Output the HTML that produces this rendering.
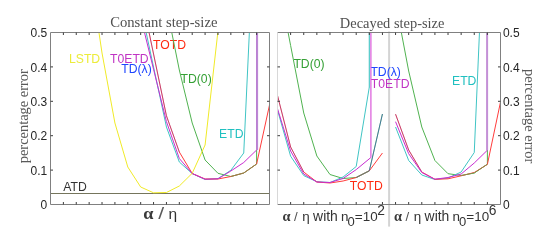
<!DOCTYPE html>
<html><head><meta charset="utf-8"><style>
html,body{margin:0;padding:0;background:#fff;}
svg{display:block;will-change:transform;}
svg{font-family:"Liberation Sans",sans-serif;}
</style></head><body>
<svg width="552" height="241" viewBox="0 0 552 241">
<defs>
<clipPath id="cl"><rect x="50.5" y="32.5" width="219.0" height="172.0"/></clipPath>
<clipPath id="cr1"><rect x="277.5" y="32.5" width="111.5" height="172.0"/></clipPath>
<clipPath id="cr2"><rect x="389" y="32.5" width="111.5" height="172.0"/></clipPath>
</defs>
<rect width="552" height="241" fill="#fff"/>
<text x="110.15" y="27.4" font-family="Liberation Serif" font-size="14.7" fill="#505050">Constant step-size</text>
<text x="339.8" y="28" font-family="Liberation Serif" font-size="14.45" fill="#505050">Decayed step-size</text>
<text font-family="Liberation Serif" font-size="14.45" fill="#5a5a5a" text-anchor="middle" transform="translate(27.6,116.2) rotate(-90)">percentage error</text>
<text font-family="Liberation Serif" font-size="14.45" fill="#5a5a5a" text-anchor="middle" transform="translate(524.6,116.2) rotate(90)">percentage error</text>
<line x1="389.1" y1="31.5" x2="389.1" y2="226.6" stroke="#d4d4d4" stroke-width="2"/>
<text x="69.0" y="62.9" font-family="Liberation Sans" font-size="12.2" fill="#ecec3a">LSTD</text>
<text x="110.05" y="62.9" font-family="Liberation Sans" font-size="12.2" fill="#c034c4">T0ETD</text>
<text x="121.25" y="73.2" font-family="Liberation Sans" font-size="12.2" fill="#1e46ff">TD(λ)</text>
<text x="153.12" y="48.75" font-family="Liberation Sans" font-size="12.2" fill="#ff2a10">TOTD</text>
<text x="180.55" y="82.8" font-family="Liberation Sans" font-size="12.2" fill="#35a035">TD(0)</text>
<text x="219.1" y="137.95" font-family="Liberation Sans" font-size="12.2" fill="#20c0c0">ETD</text>
<text x="63.3" y="190.95" font-family="Liberation Sans" font-size="12.2" fill="#333">ATD</text>
<text x="293.4" y="67.9" font-family="Liberation Sans" font-size="12.2" fill="#35a035">TD(0)</text>
<text x="370.4" y="75.6" font-family="Liberation Sans" font-size="12.2" fill="#1e46ff">TD(λ)</text>
<text x="370.85" y="87.85" font-family="Liberation Sans" font-size="12.2" fill="#c034c4">T0ETD</text>
<text x="452.0" y="84.95" font-family="Liberation Sans" font-size="12.2" fill="#20c0c0">ETD</text>
<text x="349.8" y="190.25" font-family="Liberation Sans" font-size="12.2" fill="#ff2a10">TOTD</text>
<line x1="50.5" y1="193.5" x2="269.5" y2="193.5" stroke="#75755c" stroke-width="1"/>
<polyline points="166.44,6.00 179.32,70.00 192.21,123.00 205.09,160.00 217.97,173.30 230.85,176.50 243.74,173.00 256.62,164.00 269.50,-20000.00" fill="none" stroke="#50b250" stroke-width="1.0" stroke-linejoin="round" clip-path="url(#cl)" />
<polyline points="140.68,7.00 153.56,67.00 166.44,127.00 179.32,162.00 192.21,173.60 205.09,179.50 217.97,178.60 230.85,170.30 243.74,153.00 256.62,-123.00" fill="none" stroke="#40c4c4" stroke-width="1.0" stroke-linejoin="round" clip-path="url(#cl)" />
<polyline points="140.68,-7.70 153.56,54.00 166.44,115.80 179.32,152.00 192.21,173.50 205.09,179.00 217.97,179.00 230.85,176.50 243.74,173.00 256.62,164.00 269.50,105.00" fill="none" stroke="#ff3c3c" stroke-width="1.0" stroke-linejoin="round" clip-path="url(#cl)" />
<polyline points="140.68,-7.70 153.56,54.00 166.44,115.80 179.32,152.00" fill="none" stroke="#3040e0" stroke-width="1.0" stroke-linejoin="round" clip-path="url(#cl)" stroke-opacity="0.28"/>
<polyline points="140.68,17.00 153.56,69.30 166.44,121.60 179.32,158.50 192.21,173.50 205.09,179.20 217.97,178.80 230.85,171.00 243.74,162.50 256.62,150.00 269.50,-20000.00" fill="none" stroke="#c82cd0" stroke-width="1.0" stroke-linejoin="round" clip-path="url(#cl)" />
<polyline points="89.15,-33.00 102.03,53.00 114.91,123.00 127.79,167.00 140.68,187.00 153.56,192.80 166.44,192.50 179.32,186.00 192.21,173.30 205.09,145.00 217.97,31.00 230.85,-20000.00" fill="none" stroke="#f0ea28" stroke-width="1.0" stroke-linejoin="round" clip-path="url(#cl)" />
<polyline points="277.50,-22.40 290.62,45.50 303.74,113.00 316.85,156.00 329.97,174.50 343.09,178.50 356.21,177.50 369.32,170.80 382.44,114.00" fill="none" stroke="#50b250" stroke-width="1.0" stroke-linejoin="round" clip-path="url(#cr1)" />
<polyline points="277.50,110.00 290.62,156.20 303.74,175.60 316.85,181.70 329.97,182.50 343.09,177.00 356.21,166.50 369.32,87.00" fill="none" stroke="#40c4c4" stroke-width="1.0" stroke-linejoin="round" clip-path="url(#cr1)" />
<polyline points="277.50,95.50 290.62,147.00 303.74,172.00 316.85,182.00 329.97,183.00 343.09,181.00 356.21,177.50 369.32,170.80 382.44,153.00" fill="none" stroke="#ff3c3c" stroke-width="1.0" stroke-linejoin="round" clip-path="url(#cr1)" />
<polyline points="277.50,95.50 290.62,147.00 303.74,172.00" fill="none" stroke="#3040e0" stroke-width="1.0" stroke-linejoin="round" clip-path="url(#cr1)" stroke-opacity="0.28"/>
<polyline points="277.50,108.70 290.62,151.00 303.74,174.00 316.85,182.00 329.97,182.50 343.09,178.50 356.21,169.60 370.90,157.50" fill="none" stroke="#c82cd0" stroke-width="1.0" stroke-linejoin="round" clip-path="url(#cr1)" />
<polyline points="356.21,177.50 369.32,170.80 382.44,114.00" fill="none" stroke="#3040e0" stroke-width="1.0" stroke-linejoin="round" clip-path="url(#cr1)" stroke-opacity="0.5"/>
<polyline points="395.56,2.00 408.68,71.00 421.79,127.00 434.91,160.50 448.03,173.70 461.15,175.50 474.26,173.00 487.38,164.20 500.50,-20000.00" fill="none" stroke="#50b250" stroke-width="1.0" stroke-linejoin="round" clip-path="url(#cr2)" />
<polyline points="395.56,127.00 408.68,160.50 421.79,175.00 434.91,179.50 448.03,178.00 461.15,172.00 474.26,152.50 487.38,-150.00" fill="none" stroke="#40c4c4" stroke-width="1.0" stroke-linejoin="round" clip-path="url(#cr2)" />
<polyline points="395.56,114.20 408.68,150.00 421.79,172.00 434.91,179.30 448.03,178.80 461.15,175.80 474.26,172.50 487.38,164.40 500.50,102.00" fill="none" stroke="#ff3c3c" stroke-width="1.0" stroke-linejoin="round" clip-path="url(#cr2)" />
<polyline points="395.56,114.20 408.68,150.00 421.79,172.00" fill="none" stroke="#3040e0" stroke-width="1.0" stroke-linejoin="round" clip-path="url(#cr2)" stroke-opacity="0.28"/>
<polyline points="395.56,121.70 408.68,153.70 421.79,172.50 434.91,179.20 448.03,177.50 461.15,174.00 474.26,163.00 487.38,150.20 500.50,-20000.00" fill="none" stroke="#c82cd0" stroke-width="1.0" stroke-linejoin="round" clip-path="url(#cr2)" />
<polyline points="230.85,176.50 243.74,173.00 256.62,164.00" fill="none" stroke="#50b250" stroke-width="1.0" stroke-linejoin="round" clip-path="url(#cl)" stroke-opacity="0.6"/>
<polyline points="356.21,177.50 369.32,170.80" fill="none" stroke="#50b250" stroke-width="1.0" stroke-linejoin="round" clip-path="url(#cr1)" stroke-opacity="0.6"/>
<polyline points="461.15,175.50 474.26,173.00 487.38,164.20" fill="none" stroke="#50b250" stroke-width="1.0" stroke-linejoin="round" clip-path="url(#cr2)" stroke-opacity="0.6"/>
<line x1="257.1" y1="32.5" x2="257.1" y2="150" stroke="#bc88d4" stroke-width="2"/>
<line x1="369.3" y1="32.5" x2="369.3" y2="87.3" stroke="#40c4c4" stroke-width="1.1"/>
<line x1="370.9" y1="32.5" x2="370.9" y2="157.5" stroke="#dc64dc" stroke-width="1.3"/>
<line x1="487.1" y1="32.5" x2="487.1" y2="150.2" stroke="#c490d6" stroke-width="2"/>
<g fill="none" stroke-width="1">
<polyline points="50.5,32.5 269.5,32.5 269.5,204.5 50.5,204.5 50.5,32.5" stroke="#808080"/>
<polyline points="277.5,204.5 500.5,204.5 500.5,32.5 277.5,32.5" stroke="#808080"/>
<line x1="277.5" y1="32.5" x2="277.5" y2="204.5" stroke="#d8d8d8"/>
</g>
<g stroke="#3c3c3c" stroke-width="1">
<line x1="63.38" y1="204.5" x2="63.38" y2="202.0" />
<line x1="63.38" y1="32.5" x2="63.38" y2="35.0" />
<line x1="290.62" y1="204.5" x2="290.62" y2="202.0" />
<line x1="290.62" y1="32.5" x2="290.62" y2="35.0" />
<line x1="76.26" y1="204.5" x2="76.26" y2="202.0" />
<line x1="76.26" y1="32.5" x2="76.26" y2="35.0" />
<line x1="303.74" y1="204.5" x2="303.74" y2="202.0" />
<line x1="303.74" y1="32.5" x2="303.74" y2="35.0" />
<line x1="89.15" y1="204.5" x2="89.15" y2="202.0" />
<line x1="89.15" y1="32.5" x2="89.15" y2="35.0" />
<line x1="316.85" y1="204.5" x2="316.85" y2="202.0" />
<line x1="316.85" y1="32.5" x2="316.85" y2="35.0" />
<line x1="102.03" y1="204.5" x2="102.03" y2="202.0" />
<line x1="102.03" y1="32.5" x2="102.03" y2="35.0" />
<line x1="329.97" y1="204.5" x2="329.97" y2="202.0" />
<line x1="329.97" y1="32.5" x2="329.97" y2="35.0" />
<line x1="114.91" y1="204.5" x2="114.91" y2="202.0" />
<line x1="114.91" y1="32.5" x2="114.91" y2="35.0" />
<line x1="343.09" y1="204.5" x2="343.09" y2="202.0" />
<line x1="343.09" y1="32.5" x2="343.09" y2="35.0" />
<line x1="127.79" y1="204.5" x2="127.79" y2="202.0" />
<line x1="127.79" y1="32.5" x2="127.79" y2="35.0" />
<line x1="356.21" y1="204.5" x2="356.21" y2="202.0" />
<line x1="356.21" y1="32.5" x2="356.21" y2="35.0" />
<line x1="140.68" y1="204.5" x2="140.68" y2="202.0" />
<line x1="140.68" y1="32.5" x2="140.68" y2="35.0" />
<line x1="369.32" y1="204.5" x2="369.32" y2="202.0" />
<line x1="369.32" y1="32.5" x2="369.32" y2="35.0" />
<line x1="153.56" y1="204.5" x2="153.56" y2="202.0" />
<line x1="153.56" y1="32.5" x2="153.56" y2="35.0" />
<line x1="382.44" y1="204.5" x2="382.44" y2="202.0" />
<line x1="382.44" y1="32.5" x2="382.44" y2="35.0" />
<line x1="166.44" y1="204.5" x2="166.44" y2="202.0" />
<line x1="166.44" y1="32.5" x2="166.44" y2="35.0" />
<line x1="395.56" y1="204.5" x2="395.56" y2="202.0" />
<line x1="395.56" y1="32.5" x2="395.56" y2="35.0" />
<line x1="179.32" y1="204.5" x2="179.32" y2="202.0" />
<line x1="179.32" y1="32.5" x2="179.32" y2="35.0" />
<line x1="408.68" y1="204.5" x2="408.68" y2="202.0" />
<line x1="408.68" y1="32.5" x2="408.68" y2="35.0" />
<line x1="192.21" y1="204.5" x2="192.21" y2="202.0" />
<line x1="192.21" y1="32.5" x2="192.21" y2="35.0" />
<line x1="421.79" y1="204.5" x2="421.79" y2="202.0" />
<line x1="421.79" y1="32.5" x2="421.79" y2="35.0" />
<line x1="205.09" y1="204.5" x2="205.09" y2="202.0" />
<line x1="205.09" y1="32.5" x2="205.09" y2="35.0" />
<line x1="434.91" y1="204.5" x2="434.91" y2="202.0" />
<line x1="434.91" y1="32.5" x2="434.91" y2="35.0" />
<line x1="217.97" y1="204.5" x2="217.97" y2="202.0" />
<line x1="217.97" y1="32.5" x2="217.97" y2="35.0" />
<line x1="448.03" y1="204.5" x2="448.03" y2="202.0" />
<line x1="448.03" y1="32.5" x2="448.03" y2="35.0" />
<line x1="230.85" y1="204.5" x2="230.85" y2="202.0" />
<line x1="230.85" y1="32.5" x2="230.85" y2="35.0" />
<line x1="461.15" y1="204.5" x2="461.15" y2="202.0" />
<line x1="461.15" y1="32.5" x2="461.15" y2="35.0" />
<line x1="243.74" y1="204.5" x2="243.74" y2="202.0" />
<line x1="243.74" y1="32.5" x2="243.74" y2="35.0" />
<line x1="474.26" y1="204.5" x2="474.26" y2="202.0" />
<line x1="474.26" y1="32.5" x2="474.26" y2="35.0" />
<line x1="256.62" y1="204.5" x2="256.62" y2="202.0" />
<line x1="256.62" y1="32.5" x2="256.62" y2="35.0" />
<line x1="487.38" y1="204.5" x2="487.38" y2="202.0" />
<line x1="487.38" y1="32.5" x2="487.38" y2="35.0" />
<line x1="50.5" y1="170.10" x2="53.0" y2="170.10" />
<line x1="269.5" y1="170.10" x2="267.0" y2="170.10" />
<line x1="277.5" y1="170.10" x2="280.0" y2="170.10" />
<line x1="500.5" y1="170.10" x2="498.0" y2="170.10" />
<line x1="50.5" y1="135.70" x2="53.0" y2="135.70" />
<line x1="269.5" y1="135.70" x2="267.0" y2="135.70" />
<line x1="277.5" y1="135.70" x2="280.0" y2="135.70" />
<line x1="500.5" y1="135.70" x2="498.0" y2="135.70" />
<line x1="50.5" y1="101.30" x2="53.0" y2="101.30" />
<line x1="269.5" y1="101.30" x2="267.0" y2="101.30" />
<line x1="277.5" y1="101.30" x2="280.0" y2="101.30" />
<line x1="500.5" y1="101.30" x2="498.0" y2="101.30" />
<line x1="50.5" y1="66.90" x2="53.0" y2="66.90" />
<line x1="269.5" y1="66.90" x2="267.0" y2="66.90" />
<line x1="277.5" y1="66.90" x2="280.0" y2="66.90" />
<line x1="500.5" y1="66.90" x2="498.0" y2="66.90" />
</g>
<g font-size="12" fill="#262626">
<text x="47.2" y="209.20" text-anchor="end">0</text>
<text x="502.9" y="209.20">0</text>
<text x="47.2" y="174.80" text-anchor="end">0.1</text>
<text x="502.9" y="174.80">0.1</text>
<text x="47.2" y="140.40" text-anchor="end">0.2</text>
<text x="502.9" y="140.40">0.2</text>
<text x="47.2" y="106.00" text-anchor="end">0.3</text>
<text x="502.9" y="106.00">0.3</text>
<text x="47.2" y="71.60" text-anchor="end">0.4</text>
<text x="502.9" y="71.60">0.4</text>
<text x="47.2" y="37.20" text-anchor="end">0.5</text>
<text x="502.9" y="37.20">0.5</text>
</g>
<g fill="#333">
<text x="143.3" y="219.2" font-family="Liberation Serif" font-weight="bold" font-size="16.5" fill="#3a3a3a" textLength="10.2" lengthAdjust="spacingAndGlyphs">α</text>
<text x="158.2" y="219.1" font-size="16" fill="#5a5a5a" textLength="5.9" lengthAdjust="spacingAndGlyphs">/</text>
<text x="168.6" y="218.8" font-size="15.5">η</text>
<text x="282.6" y="220.9" font-family="Liberation Serif" font-weight="bold" font-size="14" fill="#3a3a3a" textLength="8" lengthAdjust="spacingAndGlyphs">α</text>
<text x="294" y="221.1" font-size="13.2" fill="#505050">/</text>
<text x="302.2" y="220.95" font-size="13.4">η</text>
<text x="313.1" y="221.1" font-size="13.9">with</text>
<text x="341" y="221.1" font-size="13.4">n</text>
<text x="347.6" y="226.2" font-size="13">0</text>
<text x="354.7" y="221.1" font-size="13.6">=</text>
<text x="362.8" y="221.1" font-size="13.4">10</text>
<text x="377.2" y="214.8" font-size="13.8">2</text>
<text x="394.1" y="220.9" font-family="Liberation Serif" font-weight="bold" font-size="14" fill="#3a3a3a" textLength="8" lengthAdjust="spacingAndGlyphs">α</text>
<text x="405.5" y="221.1" font-size="13.2" fill="#505050">/</text>
<text x="413.7" y="220.95" font-size="13.4">η</text>
<text x="424.6" y="221.1" font-size="13.9">with</text>
<text x="452.5" y="221.1" font-size="13.4">n</text>
<text x="459.1" y="226.2" font-size="13">0</text>
<text x="466.2" y="221.1" font-size="13.6">=</text>
<text x="474.3" y="221.1" font-size="13.4">10</text>
<text x="488.7" y="214.8" font-size="13.8">6</text>
</g>
</svg>
</body></html>
